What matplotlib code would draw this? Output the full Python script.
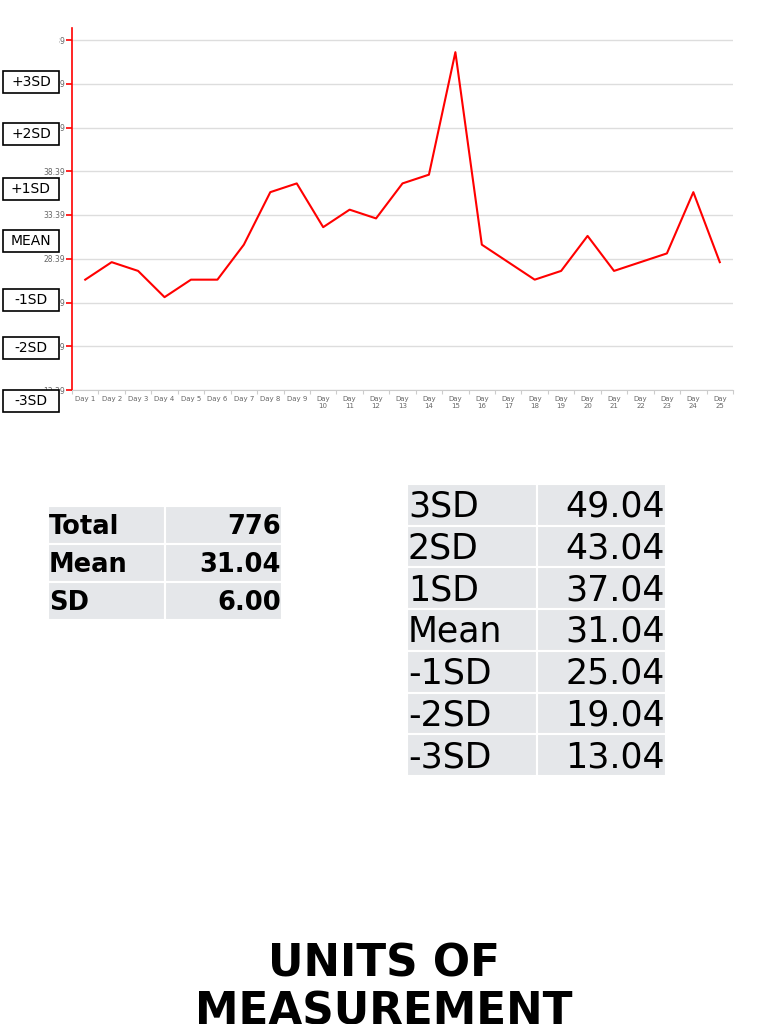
import matplotlib.pyplot as plt
from matplotlib.patches import Rectangle

# datos del grafico
dias = [f"Day {i}" if i < 10 else f"Day\n{i}" for i in range(1, 26)]
valores = [26, 28, 27, 24, 26, 26, 30, 36, 37, 32, 34, 33, 37, 38, 52,
           30, 28, 26, 27, 31, 27, 28, 29, 36, 28]
ticks_y = [13.39, 18.39, 23.39, 28.39, 33.39, 38.39, 43.39, 48.39, 53.39]

etiquetas_sd = ["+3SD", "+2SD", "+1SD", "MEAN", "-1SD", "-2SD", "-3SD"]

resumen_nombres = ["Total", "Mean", "SD"]
resumen_valores = ["776", "31.04", "6.00"]

limites_nombres = ["3SD", "2SD", "1SD", "Mean", "-1SD", "-2SD", "-3SD"]
limites_valores = ["49.04", "43.04", "37.04", "31.04", "25.04", "19.04", "13.04"]

titulo = "UNITS OF\nMEASUREMENT"

W, H = 768, 1024
fig = plt.figure(figsize=(W / 100, H / 100), dpi=100)


def caja(x0, y0, x1, y1):
    # pixeles -> coordenadas de figura
    return [x0 / W, 1 - y1 / H, (x1 - x0) / W, (y1 - y0) / H]


# Grafico de lineas
ax = fig.add_axes(caja(72, 28, 733, 390))
x = list(range(1, len(valores) + 1))
ax.plot(x, valores, color="red", linewidth=1.5, zorder=3)
ax.set_xlim(0.5, 25.5)
ax.set_ylim(13.39, 53.39 + 12 / 8.75)
ax.set_yticks(ticks_y)
ax.set_yticklabels([f"{t:.2f}" for t in ticks_y], fontsize=5.5, color="#666666")
ax.set_xticks(x)
ax.set_xticklabels(dias, fontsize=5, color="#666666", va="top")
ax.set_xticks([i + 0.5 for i in range(0, 26)], minor=True)
ax.tick_params(axis="x", which="major", length=0, pad=4)
ax.tick_params(axis="x", which="minor", length=3, color="#cccccc", width=0.8)
ax.tick_params(axis="y", length=4, color="red", width=1.2, pad=1)
ax.grid(axis="y", color="#dddddd", linewidth=1)
ax.set_axisbelow(True)
for s in ["top", "right"]:
    ax.spines[s].set_visible(False)
ax.spines["left"].set_color("red")
ax.spines["left"].set_linewidth(1.2)
ax.spines["bottom"].set_color("#cccccc")
ax.spines["bottom"].set_linewidth(0.8)

# capa superior para cajas, tablas y titulo
ov = fig.add_axes([0, 0, 1, 1])
ov.set_xlim(0, W)
ov.set_ylim(H, 0)
ov.axis("off")
ov.patch.set_alpha(0)

ov.add_patch(Rectangle((3, 30), 56, 20, facecolor="white", edgecolor="none"))
centros = [82, 134, 189, 241, 300, 348, 401]
for etiqueta, cy in zip(etiquetas_sd, centros):
    ov.add_patch(Rectangle((3, cy - 11), 56, 22, facecolor="white",
                           edgecolor="black", linewidth=1.2))
    ov.text(31, cy, etiqueta, ha="center", va="center", fontsize=10)


def tabla(x0, y0, ancho, alto_fila, nombres, valores_t, fs, bold):
    mitad = ancho / 2
    for i, (n, v) in enumerate(zip(nombres, valores_t)):
        y = y0 + i * alto_fila
        for j in range(2):
            ov.add_patch(Rectangle((x0 + j * mitad, y), mitad, alto_fila,
                                   facecolor="#e5e7ea", edgecolor="white",
                                   linewidth=1.5))
        peso = "bold" if bold else "normal"
        ov.text(x0 + 1, y + alto_fila / 2 + 2, n, ha="left", va="center",
                fontsize=fs, fontweight=peso)
        ov.text(x0 + ancho - 1, y + alto_fila / 2 + 2, v, ha="right",
                va="center", fontsize=fs, fontweight=peso)


tabla(48, 506, 234, 38, resumen_nombres, resumen_valores, 18.5, True)
tabla(407, 484, 259, 41.7, limites_nombres, limites_valores, 25, False)

ov.text(384, 988, titulo, ha="center", va="center", fontsize=31.5,
        fontweight="bold", linespacing=1.12)

fig.savefig("out.png", dpi=100)
